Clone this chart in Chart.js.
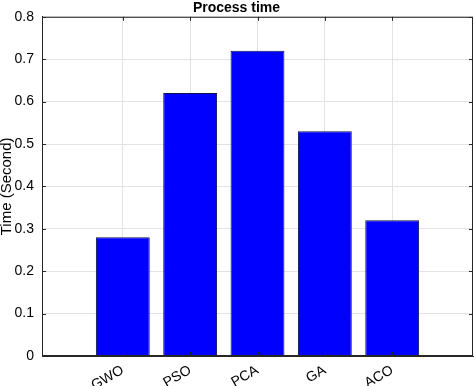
<!DOCTYPE html>
<html>
<head>
<meta charset="utf-8">
<script src="https://cdn.jsdelivr.net/npm/chart.js@4.4.1/dist/chart.umd.min.js"></script>
<style>
  html, body { margin: 0; padding: 0; background: #fff; }
  #wrap { width: 474px; height: 386px; }
</style>
</head>
<body>
<div id="wrap"><canvas id="chart"></canvas></div>
<script>
const categories = ['GWO', 'PSO', 'PCA', 'GA', 'ACO']
const times = [0.28, 0.62, 0.72, 0.53, 0.32]
const yTicks = [0, 0.1, 0.2, 0.3, 0.4, 0.5, 0.6, 0.7, 0.8]

const axisColor = '#262626'
const gridColor = '#e3e3e3'

// matlab style box with inward tick marks
const boxPlugin = {
  id: 'box',
  afterDraw(chart) {
    const { ctx, chartArea: a, scales } = chart
    ctx.save()
    ctx.strokeStyle = axisColor
    ctx.lineWidth = 1
    ctx.strokeRect(a.left + 0.5, a.top + 0.5, a.right - a.left - 1, a.bottom - a.top - 1)
    ctx.beginPath()
    scales.y.ticks.forEach(t => {
      const y = Math.round(scales.y.getPixelForValue(t.value)) + 0.5
      ctx.moveTo(a.left, y); ctx.lineTo(a.left + 4, y)
      ctx.moveTo(a.right, y); ctx.lineTo(a.right - 4, y)
    })
    scales.x.ticks.forEach(t => {
      const x = Math.round(scales.x.getPixelForValue(t.value)) + 0.5
      ctx.moveTo(x, a.bottom); ctx.lineTo(x, a.bottom - 4)
      ctx.moveTo(x, a.top); ctx.lineTo(x, a.top + 4)
    })
    ctx.stroke()
    ctx.restore()
  }
}

new Chart(document.getElementById('chart'), {
  type: 'bar',
  data: {
    datasets: [{
      data: times.map((v, i) => ({ x: i + 1, y: v })),
      backgroundColor: '#0000ff',
      borderColor: '#10104a',
      borderWidth: 1,
      barPercentage: 0.8,
      categoryPercentage: 1
    }]
  },
  options: {
    responsive: true,
    maintainAspectRatio: false,
    animation: false,
    layout: { padding: { top: 0, right: 1, bottom: 0, left: 0 } },
    plugins: {
      legend: { display: false },
      tooltip: { enabled: false },
      title: {
        display: true,
        text: 'Process time',
        color: '#000',
        font: { family: 'Liberation Sans', size: 14, weight: 'bold' },
        padding: { top: 0, bottom: 0 }
      }
    },
    scales: {
      x: {
        type: 'linear',
        offset: false,
        min: -0.2,
        max: 6.2,
        afterBuildTicks: scale => {
          scale.ticks = categories.map((_, i) => ({ value: i + 1 }))
        },
        afterFit: scale => { scale.height = 30 },
        grid: { color: gridColor, drawTicks: false, offset: false },
        border: { color: axisColor },
        ticks: {
          color: '#000',
          font: { family: 'Liberation Sans', size: 14 },
          minRotation: 30,
          maxRotation: 30,
          padding: 6,
          callback: v => categories[v - 1]
        }
      },
      y: {
        min: 0,
        max: 0.8,
        afterBuildTicks: scale => {
          scale.ticks = yTicks.map(v => ({ value: v }))
        },
        afterFit: scale => { scale.width = 42 },
        grid: { color: gridColor, drawTicks: false },
        border: { color: axisColor },
        ticks: {
          color: '#000',
          font: { family: 'Liberation Sans', size: 14 },
          padding: 8,
          callback: v => String(v)
        },
        title: {
          display: true,
          text: 'Time (Second)',
          color: '#000',
          font: { family: 'Liberation Sans', size: 15 },
          padding: { top: -2, bottom: 0 }
        }
      }
    }
  },
  plugins: [boxPlugin]
})
</script>
</body>
</html>
